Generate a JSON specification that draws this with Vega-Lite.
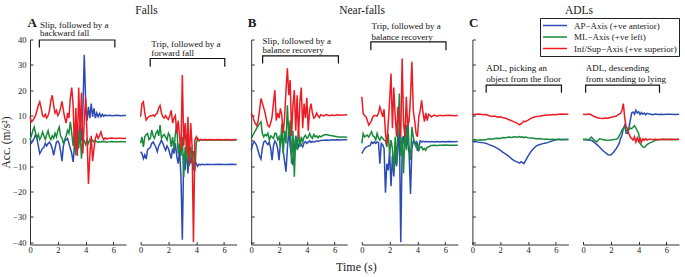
{
"$schema":"https://vega.github.io/schema/vega-lite/v6.json",
"padding":{"left":0,"top":3.5,"right":2,"bottom":1},
"datasets":{
"sig":[
{"p":"A1","t":0,"ap":-1.5,"ml":0.3,"is":9.5},{"p":"A1","t":0.1,"ap":-1,"ml":2,"is":7.5},{"p":"A1","t":0.2,"ap":0,"ml":4,"is":8},{"p":"A1","t":0.3,"ap":1,"ml":5.5,"is":9},{"p":"A1","t":0.4,"ap":2.5,"ml":3,"is":10},{"p":"A1","t":0.5,"ap":1,"ml":1,"is":12},{"p":"A1","t":0.6,"ap":-2,"ml":2.5,"is":14},{"p":"A1","t":0.7,"ap":-5,"ml":0.5,"is":15.4},{"p":"A1","t":0.8,"ap":-4,"ml":1.5,"is":13},{"p":"A1","t":0.9,"ap":-3,"ml":3.5,"is":10},
{"p":"A1","t":1.0,"ap":-2.5,"ml":2,"is":9.5},{"p":"A1","t":1.1,"ap":-1,"ml":0.5,"is":10.5},{"p":"A1","t":1.2,"ap":-2,"ml":2.5,"is":9},{"p":"A1","t":1.3,"ap":-1,"ml":4,"is":10},{"p":"A1","t":1.4,"ap":-0.5,"ml":1.5,"is":12},{"p":"A1","t":1.5,"ap":-1.5,"ml":0.5,"is":16},{"p":"A1","t":1.6,"ap":-3,"ml":2,"is":18},{"p":"A1","t":1.7,"ap":-5.7,"ml":1,"is":14},{"p":"A1","t":1.8,"ap":-3,"ml":3,"is":11},{"p":"A1","t":1.9,"ap":-0.5,"ml":1.5,"is":12},
{"p":"A1","t":2.0,"ap":0,"ml":4,"is":10},{"p":"A1","t":2.1,"ap":-1,"ml":5.5,"is":11},{"p":"A1","t":2.2,"ap":-4,"ml":2,"is":13},{"p":"A1","t":2.3,"ap":-8,"ml":1,"is":15.6},{"p":"A1","t":2.4,"ap":-2,"ml":-1,"is":12},{"p":"A1","t":2.5,"ap":0,"ml":0.5,"is":9},{"p":"A1","t":2.6,"ap":0.5,"ml":2,"is":7},{"p":"A1","t":2.7,"ap":1,"ml":4.2,"is":11},{"p":"A1","t":2.8,"ap":-1,"ml":3,"is":9},{"p":"A1","t":2.9,"ap":-3,"ml":7.5,"is":17},
{"p":"A1","t":3.0,"ap":-5,"ml":3,"is":21},{"p":"A1","t":3.1,"ap":-8.3,"ml":-2,"is":14},{"p":"A1","t":3.2,"ap":-2,"ml":5,"is":-3},{"p":"A1","t":3.3,"ap":4,"ml":-5.7,"is":13},{"p":"A1","t":3.4,"ap":-4,"ml":6.8,"is":-6},{"p":"A1","t":3.5,"ap":2,"ml":-3,"is":21},{"p":"A1","t":3.6,"ap":6,"ml":4,"is":4},{"p":"A1","t":3.7,"ap":0,"ml":-7,"is":19},{"p":"A1","t":3.8,"ap":12,"ml":1,"is":-5},{"p":"A1","t":3.9,"ap":34,"ml":0,"is":8},
{"p":"A1","t":4.0,"ap":16,"ml":-1.5,"is":17},{"p":"A1","t":4.1,"ap":8,"ml":0.5,"is":2},{"p":"A1","t":4.2,"ap":13.4,"ml":-1,"is":-17},{"p":"A1","t":4.3,"ap":9,"ml":0.5,"is":-6},{"p":"A1","t":4.4,"ap":14.7,"ml":-0.5,"is":2},{"p":"A1","t":4.5,"ap":9.5,"ml":0.3,"is":-8},{"p":"A1","t":4.6,"ap":12.8,"ml":-0.5,"is":-3},{"p":"A1","t":4.7,"ap":9,"ml":0,"is":1},{"p":"A1","t":4.8,"ap":11,"ml":-0.3,"is":2.5},{"p":"A1","t":4.9,"ap":9.5,"ml":-0.6,"is":1},
{"p":"A1","t":5.0,"ap":10.8,"ml":-0.3,"is":2},{"p":"A1","t":5.1,"ap":9.5,"ml":-0.5,"is":3.5},{"p":"A1","t":5.2,"ap":10.5,"ml":-0.2,"is":1.5},{"p":"A1","t":5.3,"ap":9.7,"ml":-0.4,"is":0.5},{"p":"A1","t":5.4,"ap":10.2,"ml":-0.3,"is":1.2},{"p":"A1","t":5.5,"ap":9.9,"ml":-0.5,"is":0.8},{"p":"A1","t":5.7,"ap":10.1,"ml":-0.4,"is":1},{"p":"A1","t":5.9,"ap":9.9,"ml":-0.3,"is":1.1},{"p":"A1","t":6.1,"ap":10,"ml":-0.4,"is":0.9},{"p":"A1","t":6.3,"ap":10.1,"ml":-0.4,"is":1},{"p":"A1","t":6.5,"ap":9.9,"ml":-0.3,"is":1},{"p":"A1","t":6.7,"ap":10,"ml":-0.4,"is":0.9},{"p":"A1","t":6.9,"ap":10,"ml":-0.4,"is":1},

{"p":"A2","t":0,"ap":-4.3,"ml":-1,"is":9.5},{"p":"A2","t":0.1,"ap":-5,"ml":1.6,"is":14.7},{"p":"A2","t":0.2,"ap":-7,"ml":-2.4,"is":15.4},{"p":"A2","t":0.3,"ap":-5.5,"ml":1.6,"is":11},{"p":"A2","t":0.4,"ap":-7.2,"ml":2.5,"is":8.2},{"p":"A2","t":0.5,"ap":-3.5,"ml":2.9,"is":9},{"p":"A2","t":0.6,"ap":-3,"ml":0.5,"is":9.5},{"p":"A2","t":0.7,"ap":-2.5,"ml":1,"is":10},{"p":"A2","t":0.8,"ap":-1,"ml":4.2,"is":9.8},{"p":"A2","t":0.9,"ap":-0.4,"ml":2,"is":10.2},
{"p":"A2","t":1.0,"ap":-1.5,"ml":1,"is":9.7},{"p":"A2","t":1.1,"ap":-2.5,"ml":3,"is":10.5},{"p":"A2","t":1.2,"ap":-4.3,"ml":4,"is":11},{"p":"A2","t":1.3,"ap":-2,"ml":2,"is":13},{"p":"A2","t":1.4,"ap":-1,"ml":6.2,"is":14},{"p":"A2","t":1.5,"ap":0.3,"ml":1,"is":11},{"p":"A2","t":1.6,"ap":-1,"ml":2,"is":9.5},{"p":"A2","t":1.7,"ap":-2.4,"ml":2.5,"is":9},{"p":"A2","t":1.8,"ap":-3.7,"ml":1.5,"is":10},{"p":"A2","t":1.9,"ap":-2,"ml":0.3,"is":9},
{"p":"A2","t":2.0,"ap":-3,"ml":3,"is":8.5},{"p":"A2","t":2.1,"ap":-5,"ml":2,"is":10},{"p":"A2","t":2.2,"ap":-7,"ml":-2.4,"is":12},{"p":"A2","t":2.3,"ap":-3,"ml":1.5,"is":7},{"p":"A2","t":2.4,"ap":-5,"ml":-3.7,"is":9},{"p":"A2","t":2.5,"ap":-1,"ml":2.9,"is":10},{"p":"A2","t":2.6,"ap":-6,"ml":6.8,"is":3},{"p":"A2","t":2.7,"ap":-9,"ml":-5,"is":8},{"p":"A2","t":2.8,"ap":-3.5,"ml":-1,"is":1.6},{"p":"A2","t":2.9,"ap":-14,"ml":-6,"is":-3.7},
{"p":"A2","t":3.0,"ap":-39,"ml":1.6,"is":26},{"p":"A2","t":3.1,"ap":-5,"ml":-14.2,"is":-2},{"p":"A2","t":3.2,"ap":-11.6,"ml":-2.4,"is":7},{"p":"A2","t":3.3,"ap":-2.4,"ml":-8,"is":-5},{"p":"A2","t":3.4,"ap":-12.9,"ml":1.6,"is":9.5},{"p":"A2","t":3.5,"ap":-5,"ml":-10,"is":-9},{"p":"A2","t":3.6,"ap":-9,"ml":-2.4,"is":7},{"p":"A2","t":3.7,"ap":-6,"ml":-6,"is":-2},{"p":"A2","t":3.8,"ap":-11.6,"ml":-4,"is":-40},{"p":"A2","t":3.9,"ap":-7.5,"ml":-12.2,"is":0.3},
{"p":"A2","t":4.0,"ap":-9,"ml":-1,"is":1.6},{"p":"A2","t":4.1,"ap":-10,"ml":1,"is":0.5},{"p":"A2","t":4.2,"ap":-9.2,"ml":0,"is":0.3},{"p":"A2","t":4.3,"ap":-9.5,"ml":0.5,"is":0.6},{"p":"A2","t":4.4,"ap":-9.2,"ml":0.3,"is":0.4},{"p":"A2","t":4.6,"ap":-9.4,"ml":0.3,"is":0.5},{"p":"A2","t":4.8,"ap":-9.2,"ml":0.4,"is":0.4},{"p":"A2","t":5.0,"ap":-9.3,"ml":0.3,"is":0.5},{"p":"A2","t":5.3,"ap":-9.3,"ml":0.3,"is":0.4},{"p":"A2","t":5.6,"ap":-9.2,"ml":0.3,"is":0.5},{"p":"A2","t":5.9,"ap":-9.3,"ml":0.3,"is":0.4},{"p":"A2","t":6.2,"ap":-9.3,"ml":0.3,"is":0.5},{"p":"A2","t":6.5,"ap":-9.2,"ml":0.3,"is":0.4},{"p":"A2","t":6.9,"ap":-9.3,"ml":0.3,"is":0.5},

{"p":"B1","t":0,"ap":-3.7,"ml":1,"is":10.8},{"p":"B1","t":0.1,"ap":-1.5,"ml":2,"is":10},{"p":"B1","t":0.2,"ap":-0.4,"ml":3,"is":8},{"p":"B1","t":0.3,"ap":-0.8,"ml":4,"is":6.8},{"p":"B1","t":0.4,"ap":-2,"ml":5,"is":6},{"p":"B1","t":0.5,"ap":-4,"ml":6,"is":8},{"p":"B1","t":0.6,"ap":-6,"ml":6.8,"is":12},{"p":"B1","t":0.7,"ap":-7.2,"ml":7.5,"is":16.7},{"p":"B1","t":0.8,"ap":-3,"ml":3,"is":15},{"p":"B1","t":0.9,"ap":-0.5,"ml":1.6,"is":13},
{"p":"B1","t":1.0,"ap":0,"ml":2.5,"is":11},{"p":"B1","t":1.1,"ap":-0.8,"ml":2,"is":8.2},{"p":"B1","t":1.2,"ap":-1.5,"ml":3,"is":6},{"p":"B1","t":1.3,"ap":-0.5,"ml":0.3,"is":5.5},{"p":"B1","t":1.4,"ap":-3,"ml":2,"is":7},{"p":"B1","t":1.5,"ap":-7.6,"ml":1.5,"is":9.5},{"p":"B1","t":1.6,"ap":-2,"ml":1,"is":15},{"p":"B1","t":1.7,"ap":0,"ml":3,"is":20},{"p":"B1","t":1.8,"ap":-1,"ml":2.9,"is":8},{"p":"B1","t":1.9,"ap":-3,"ml":0.5,"is":11},
{"p":"B1","t":2.0,"ap":-7.6,"ml":1.6,"is":9},{"p":"B1","t":2.1,"ap":-1,"ml":-2.4,"is":12.8},{"p":"B1","t":2.2,"ap":3,"ml":6.8,"is":10},{"p":"B1","t":2.3,"ap":-4,"ml":-5,"is":3},{"p":"B1","t":2.4,"ap":-8,"ml":4,"is":9},{"p":"B1","t":2.5,"ap":-12.2,"ml":-1,"is":20},{"p":"B1","t":2.6,"ap":-3,"ml":14,"is":28.6},{"p":"B1","t":2.7,"ap":4.3,"ml":2,"is":18},{"p":"B1","t":2.8,"ap":-2,"ml":8,"is":24},{"p":"B1","t":2.9,"ap":-6,"ml":-9,"is":2},
{"p":"B1","t":3.0,"ap":-9.6,"ml":4,"is":14},{"p":"B1","t":3.1,"ap":-3,"ml":-14.2,"is":20},{"p":"B1","t":3.2,"ap":2,"ml":1.6,"is":4},{"p":"B1","t":3.3,"ap":-0.4,"ml":-3.7,"is":18},{"p":"B1","t":3.4,"ap":-2.4,"ml":4.2,"is":1},{"p":"B1","t":3.5,"ap":-0.5,"ml":-2.4,"is":15.4},{"p":"B1","t":3.6,"ap":-1.5,"ml":1.6,"is":21},{"p":"B1","t":3.7,"ap":-2.4,"ml":-0.4,"is":5},{"p":"B1","t":3.8,"ap":-0.8,"ml":1.5,"is":14.7},{"p":"B1","t":3.9,"ap":-0.3,"ml":2.2,"is":9},
{"p":"B1","t":4.0,"ap":-1,"ml":1,"is":17},{"p":"B1","t":4.1,"ap":-0.5,"ml":1.5,"is":4},{"p":"B1","t":4.2,"ap":0,"ml":2.9,"is":12},{"p":"B1","t":4.3,"ap":-0.6,"ml":1.6,"is":14.7},{"p":"B1","t":4.4,"ap":-0.2,"ml":1,"is":11},{"p":"B1","t":4.5,"ap":-0.5,"ml":2.5,"is":9},{"p":"B1","t":4.6,"ap":-0.3,"ml":1.6,"is":9.5},{"p":"B1","t":4.7,"ap":0,"ml":2,"is":11},{"p":"B1","t":4.8,"ap":-0.2,"ml":1.2,"is":10},{"p":"B1","t":4.9,"ap":0,"ml":2,"is":9.2},
{"p":"B1","t":5.0,"ap":0.1,"ml":1.6,"is":10.3},{"p":"B1","t":5.2,"ap":0.2,"ml":2.3,"is":9.8},{"p":"B1","t":5.4,"ap":0.3,"ml":2.5,"is":10.4},{"p":"B1","t":5.6,"ap":0.2,"ml":2.2,"is":9.9},{"p":"B1","t":5.8,"ap":0.4,"ml":2,"is":10.2},{"p":"B1","t":6.0,"ap":0.3,"ml":1.8,"is":10},{"p":"B1","t":6.2,"ap":0.4,"ml":1.6,"is":10.3},{"p":"B1","t":6.4,"ap":0.3,"ml":1.5,"is":10.1},{"p":"B1","t":6.6,"ap":0.4,"ml":1.5,"is":10.2},{"p":"B1","t":6.9,"ap":0.4,"ml":1.4,"is":10.3},

{"p":"B2","t":0,"ap":-5,"ml":-1,"is":17.4},{"p":"B2","t":0.1,"ap":-4,"ml":2.9,"is":10.8},{"p":"B2","t":0.2,"ap":-3,"ml":1.6,"is":10},{"p":"B2","t":0.3,"ap":-2.5,"ml":2,"is":9.5},{"p":"B2","t":0.4,"ap":-2.3,"ml":2.3,"is":8},{"p":"B2","t":0.5,"ap":-2,"ml":1.5,"is":6.2},{"p":"B2","t":0.6,"ap":-1.8,"ml":2.5,"is":7},{"p":"B2","t":0.7,"ap":-0.5,"ml":3.6,"is":8},{"p":"B2","t":0.8,"ap":-1,"ml":2,"is":9.5},{"p":"B2","t":0.9,"ap":-0.4,"ml":1.6,"is":10},
{"p":"B2","t":1.0,"ap":-1,"ml":0.3,"is":10},{"p":"B2","t":1.1,"ap":-0.4,"ml":2.9,"is":9.8},{"p":"B2","t":1.2,"ap":-0.7,"ml":1.2,"is":11},{"p":"B2","t":1.3,"ap":-9,"ml":0.3,"is":13.4},{"p":"B2","t":1.4,"ap":-1,"ml":1.6,"is":11.5},{"p":"B2","t":1.5,"ap":-1.5,"ml":1,"is":9.5},{"p":"B2","t":1.6,"ap":-3,"ml":0.3,"is":12.5},{"p":"B2","t":1.7,"ap":-20.5,"ml":0,"is":3},{"p":"B2","t":1.8,"ap":-9,"ml":-2.4,"is":-1.7},{"p":"B2","t":1.9,"ap":-11.6,"ml":2.9,"is":7},
{"p":"B2","t":2.0,"ap":-4,"ml":-5,"is":16},{"p":"B2","t":2.1,"ap":-17.9,"ml":0.3,"is":26.6},{"p":"B2","t":2.2,"ap":-6,"ml":-3,"is":5},{"p":"B2","t":2.3,"ap":-14,"ml":-11.6,"is":21},{"p":"B2","t":2.4,"ap":-5,"ml":1.6,"is":9.5},{"p":"B2","t":2.5,"ap":-10,"ml":-9,"is":1.6},{"p":"B2","t":2.6,"ap":-3,"ml":5,"is":13.4},{"p":"B2","t":2.7,"ap":5.5,"ml":18.7,"is":8},{"p":"B2","t":2.8,"ap":-40,"ml":-6,"is":1.6},{"p":"B2","t":2.9,"ap":-3,"ml":1.6,"is":32.5},
{"p":"B2","t":3.0,"ap":2,"ml":-12.9,"is":7},{"p":"B2","t":3.1,"ap":-2.4,"ml":4.2,"is":1.6},{"p":"B2","t":3.2,"ap":6.2,"ml":-3.7,"is":17.4},{"p":"B2","t":3.3,"ap":-1,"ml":9.5,"is":5.5},{"p":"B2","t":3.4,"ap":-5,"ml":-2.4,"is":8},{"p":"B2","t":3.5,"ap":-21,"ml":-7.6,"is":17.4},{"p":"B2","t":3.6,"ap":-3,"ml":5.5,"is":31.2},{"p":"B2","t":3.7,"ap":0,"ml":1.6,"is":12},{"p":"B2","t":3.8,"ap":-1,"ml":-1,"is":8},{"p":"B2","t":3.9,"ap":-0.4,"ml":-2.4,"is":2.9},
{"p":"B2","t":4.0,"ap":-4,"ml":-1,"is":1.6},{"p":"B2","t":4.1,"ap":-2.4,"ml":-3.7,"is":9.5},{"p":"B2","t":4.2,"ap":0,"ml":-2.5,"is":12},{"p":"B2","t":4.3,"ap":-0.4,"ml":-2.4,"is":16},{"p":"B2","t":4.4,"ap":-0.2,"ml":-3.5,"is":11},{"p":"B2","t":4.5,"ap":-0.4,"ml":-3,"is":7.6},{"p":"B2","t":4.6,"ap":-0.2,"ml":-3.7,"is":11},{"p":"B2","t":4.7,"ap":-0.4,"ml":-2.5,"is":8},{"p":"B2","t":4.8,"ap":-0.3,"ml":-2.4,"is":10.5},{"p":"B2","t":4.9,"ap":-0.4,"ml":-2,"is":10},
{"p":"B2","t":5.0,"ap":-0.3,"ml":-1.8,"is":9.5},{"p":"B2","t":5.2,"ap":-0.4,"ml":-1.7,"is":10.2},{"p":"B2","t":5.4,"ap":-0.3,"ml":-1.8,"is":9.7},{"p":"B2","t":5.6,"ap":-0.4,"ml":-1.7,"is":10.1},{"p":"B2","t":5.8,"ap":-0.3,"ml":-1.7,"is":9.9},{"p":"B2","t":6.0,"ap":-0.4,"ml":-1.6,"is":10},{"p":"B2","t":6.3,"ap":-0.3,"ml":-1.7,"is":10.1},{"p":"B2","t":6.6,"ap":-0.4,"ml":-1.7,"is":9.9},{"p":"B2","t":6.9,"ap":-0.3,"ml":-1.7,"is":10},

{"p":"C1","t":0,"ap":-0.4,"ml":0.3,"is":10.5},{"p":"C1","t":0.2,"ap":-0.3,"ml":0.5,"is":10.4},{"p":"C1","t":0.4,"ap":-0.5,"ml":0.2,"is":10.6},{"p":"C1","t":0.6,"ap":-0.6,"ml":0.4,"is":10.5},{"p":"C1","t":0.8,"ap":-0.8,"ml":0.3,"is":10.3},{"p":"C1","t":1.0,"ap":-1,"ml":0.5,"is":10.4},{"p":"C1","t":1.2,"ap":-1.5,"ml":0.8,"is":9.9},{"p":"C1","t":1.4,"ap":-1.9,"ml":0.6,"is":9.6},{"p":"C1","t":1.6,"ap":-2.4,"ml":0.9,"is":9.8},{"p":"C1","t":1.8,"ap":-3,"ml":1,"is":9.4},
{"p":"C1","t":2.0,"ap":-3.7,"ml":0.9,"is":9.5},{"p":"C1","t":2.2,"ap":-4.5,"ml":1.3,"is":9.1},{"p":"C1","t":2.4,"ap":-5.2,"ml":1.2,"is":8.9},{"p":"C1","t":2.6,"ap":-6,"ml":1.5,"is":8.4},{"p":"C1","t":2.8,"ap":-7,"ml":1.3,"is":8},{"p":"C1","t":3.0,"ap":-7.8,"ml":1.6,"is":7.5},{"p":"C1","t":3.2,"ap":-8.3,"ml":1.4,"is":7},{"p":"C1","t":3.4,"ap":-8.8,"ml":1.7,"is":6.3},{"p":"C1","t":3.5,"ap":-8.2,"ml":1.4,"is":6.8},{"p":"C1","t":3.6,"ap":-8.6,"ml":1.6,"is":7.2},
{"p":"C1","t":3.7,"ap":-9,"ml":1.3,"is":7.8},{"p":"C1","t":3.8,"ap":-8,"ml":1.5,"is":7.6},{"p":"C1","t":4.0,"ap":-6,"ml":1.2,"is":8.2},{"p":"C1","t":4.2,"ap":-4.3,"ml":1.1,"is":8.9},{"p":"C1","t":4.4,"ap":-3,"ml":1,"is":9.3},{"p":"C1","t":4.6,"ap":-2,"ml":0.8,"is":9.6},{"p":"C1","t":4.8,"ap":-1.5,"ml":0.9,"is":9.7},{"p":"C1","t":5.0,"ap":-1.2,"ml":0.7,"is":9.9},{"p":"C1","t":5.2,"ap":-0.9,"ml":0.6,"is":10.1},{"p":"C1","t":5.4,"ap":-0.7,"ml":0.6,"is":10.2},
{"p":"C1","t":5.6,"ap":-0.3,"ml":0.5,"is":10.2},{"p":"C1","t":5.8,"ap":0.1,"ml":0.6,"is":10.4},{"p":"C1","t":6.0,"ap":0.4,"ml":0.5,"is":10.3},{"p":"C1","t":6.2,"ap":0.6,"ml":0.5,"is":10.5},{"p":"C1","t":6.4,"ap":0.5,"ml":0.4,"is":10.6},{"p":"C1","t":6.6,"ap":0.5,"ml":0.5,"is":10.5},{"p":"C1","t":6.9,"ap":0.5,"ml":0.5,"is":10.6},

{"p":"C2","t":0,"ap":0.5,"ml":0.5,"is":10.5},{"p":"C2","t":0.2,"ap":0.4,"ml":0.6,"is":10.4},{"p":"C2","t":0.4,"ap":0.3,"ml":0.4,"is":10.6},{"p":"C2","t":0.6,"ap":0.2,"ml":1.5,"is":10.3},{"p":"C2","t":0.8,"ap":-0.5,"ml":0.3,"is":9.6},{"p":"C2","t":1.0,"ap":-1.5,"ml":-0.4,"is":9.2},{"p":"C2","t":1.2,"ap":-2.5,"ml":0.9,"is":8.9},{"p":"C2","t":1.4,"ap":-3.7,"ml":0.5,"is":8.8},{"p":"C2","t":1.6,"ap":-4.6,"ml":0.3,"is":9},{"p":"C2","t":1.8,"ap":-5.5,"ml":0.2,"is":8.9},
{"p":"C2","t":2.0,"ap":-5.6,"ml":0.3,"is":9.3},{"p":"C2","t":2.2,"ap":-4.5,"ml":0.5,"is":9.5},{"p":"C2","t":2.4,"ap":-3,"ml":0.6,"is":9.8},{"p":"C2","t":2.5,"ap":-2,"ml":1,"is":10.2},{"p":"C2","t":2.6,"ap":-1,"ml":2,"is":10.6},{"p":"C2","t":2.7,"ap":1,"ml":3,"is":10.8},{"p":"C2","t":2.8,"ap":2.2,"ml":4.2,"is":12},{"p":"C2","t":2.9,"ap":4.9,"ml":5,"is":14.7},{"p":"C2","t":3.0,"ap":6.2,"ml":5.5,"is":9},{"p":"C2","t":3.1,"ap":3,"ml":4.5,"is":5.5},
{"p":"C2","t":3.2,"ap":2.9,"ml":3.6,"is":4.9},{"p":"C2","t":3.3,"ap":5,"ml":4.5,"is":2.9},{"p":"C2","t":3.4,"ap":8.2,"ml":5,"is":1.5},{"p":"C2","t":3.5,"ap":11,"ml":4.8,"is":0.9},{"p":"C2","t":3.6,"ap":11.4,"ml":5.5,"is":0.3},{"p":"C2","t":3.7,"ap":10.5,"ml":6,"is":1.6},{"p":"C2","t":3.8,"ap":12.1,"ml":5,"is":-0.5},{"p":"C2","t":3.9,"ap":11,"ml":4,"is":1.2},{"p":"C2","t":4.0,"ap":11.5,"ml":2.9,"is":-0.3},{"p":"C2","t":4.1,"ap":10.4,"ml":-1,"is":1},
{"p":"C2","t":4.2,"ap":11.2,"ml":-1.7,"is":-0.5},{"p":"C2","t":4.3,"ap":10.5,"ml":-2.4,"is":0.8},{"p":"C2","t":4.4,"ap":11,"ml":-2.6,"is":0.2},{"p":"C2","t":4.5,"ap":10.3,"ml":-2,"is":0.9},{"p":"C2","t":4.6,"ap":10.9,"ml":-1.5,"is":0.3},{"p":"C2","t":4.8,"ap":10.6,"ml":-0.8,"is":0.7},{"p":"C2","t":5.0,"ap":10.3,"ml":-0.4,"is":0.4},{"p":"C2","t":5.2,"ap":10.6,"ml":0.2,"is":0.6},{"p":"C2","t":5.4,"ap":10.4,"ml":0.4,"is":0.5},{"p":"C2","t":5.6,"ap":10.5,"ml":0.5,"is":0.5},
{"p":"C2","t":5.8,"ap":10.4,"ml":0.5,"is":0.6},{"p":"C2","t":6.0,"ap":10.5,"ml":0.5,"is":0.5},{"p":"C2","t":6.3,"ap":10.5,"ml":0.6,"is":0.5},{"p":"C2","t":6.6,"ap":10.4,"ml":0.5,"is":0.5},{"p":"C2","t":6.9,"ap":10.5,"ml":0.5,"is":0.6}
],
"brk":[
{"p":"A1","i":0,"t":0.67,"acc":36.8},{"p":"A1","i":1,"t":0.67,"acc":39.8},{"p":"A1","i":2,"t":6.1,"acc":39.8},{"p":"A1","i":3,"t":6.1,"acc":36.8},
{"p":"A2","i":0,"t":0.69,"acc":29.2},{"p":"A2","i":1,"t":0.69,"acc":32.5},{"p":"A2","i":2,"t":6.05,"acc":32.5},{"p":"A2","i":3,"t":6.05,"acc":29.2},
{"p":"B1","i":0,"t":0.82,"acc":30.5},{"p":"B1","i":1,"t":0.82,"acc":33.5},{"p":"B1","i":2,"t":6.27,"acc":33.5},{"p":"B1","i":3,"t":6.27,"acc":30.5},
{"p":"B2","i":0,"t":0.65,"acc":35.8},{"p":"B2","i":1,"t":0.65,"acc":39.1},{"p":"B2","i":2,"t":6.05,"acc":39.1},{"p":"B2","i":3,"t":6.05,"acc":35.8},
{"p":"C1","i":0,"t":0.99,"acc":19},{"p":"C1","i":1,"t":0.99,"acc":22},{"p":"C1","i":2,"t":6.4,"acc":22},{"p":"C1","i":3,"t":6.4,"acc":19},
{"p":"C2","i":0,"t":0.19,"acc":19},{"p":"C2","i":1,"t":0.19,"acc":22},{"p":"C2","i":2,"t":5.5,"acc":22},{"p":"C2","i":3,"t":5.5,"acc":19}
],
"notes":[
{"p":"A1","t":0.72,"acc":45.8,"txt":"Slip, followed by a"},{"p":"A1","t":0.72,"acc":42.4,"txt":"backward fall"},
{"p":"A2","t":0.77,"acc":38.3,"txt":"Trip, followed by a"},{"p":"A2","t":0.77,"acc":34.7,"txt":"forward fall"},
{"p":"B1","t":0.81,"acc":39.6,"txt":"Slip, followed by a"},{"p":"B1","t":0.81,"acc":35.7,"txt":"balance recovery"},
{"p":"B2","t":0.7,"acc":45.3,"txt":"Trip, followed by a"},{"p":"B2","t":0.7,"acc":41.1,"txt":"balance recovery"},
{"p":"C1","t":0.99,"acc":28.8,"txt":"ADL, picking an"},{"p":"C1","t":0.99,"acc":24.5,"txt":"object from the floor"},
{"p":"C2","t":0.19,"acc":28.8,"txt":"ADL, descending"},{"p":"C2","t":0.19,"acc":24.5,"txt":"from standing to lying"}
]
},
"config":{
"view":{"stroke":null},
"font":"Liberation Serif",
"axis":{"grid":false,"domainColor":"#333","tickColor":"#333","labelColor":"#1a1a1a","labelFont":"Liberation Serif","labelFontSize":8.5,"titleFont":"Liberation Serif","titleFontSize":11.5,"titleFontWeight":"normal","titleColor":"#1a1a1a","tickSize":-3,"labelFlush":false,"labelOverlap":false},
"axisX":{"labelPadding":4},
"axisY":{"labelPadding":7},
"title":{"font":"Liberation Serif","fontWeight":"normal","color":"#1a1a1a"},
"line":{"strokeWidth":1.5}
},
"title":{"text":"Time (s)","orient":"bottom","anchor":"middle","fontSize":12,"offset":8,"baseline":"top","dx":15},
"resolve":{"scale":{"color":"shared"},"legend":{"color":"shared"}},
"spacing":14.6,
"bounds":"flush",
"hconcat":[
 {"width":96,"height":205,
  "encoding":{
   "x":{"field":"t","type":"quantitative","scale":{"domain":[0,6.9],"nice":false,"zero":false},"axis":{"values":[0,2,4,6],"title":"A","titleX":-3,"titleY":-218,"titleAlign":"left","titleBaseline":"alphabetic","titleFontWeight":"bold","titleFontSize":13}},
   "y":{"field":"acc","type":"quantitative","scale":{"domain":[-40.9,40],"nice":false},"axis":{"values":[-40,-30,-20,-10,0,10,20,30,40],"title":"Acc. (m/s²)","titlePadding":1}}},
  "layer":[
  {"data":{"name":"sig"},"transform":[{"filter":"datum.p=='A1'"},{"fold":["ap","ml","is"],"as":["k","acc"]}],
   "mark":{"type":"line"},
   "encoding":{"color":{"field":"k","type":"nominal","scale":{"domain":["ap","ml","is"],"range":["#2c4bb3","#188a3b","#ec1c24"]},
      "legend":{"title":null,"orient":"none","legendX":510,"legendY":-21.5,"labelExpr":"datum.value=='ap'?'AP−Axis (+ve anterior)':datum.value=='ml'?'ML−Axis (+ve left)':'Inf/Sup−Axis (+ve superior)'","symbolType":"M-1,0L4.33,0","symbolSize":81,"symbolStrokeWidth":2,"labelFont":"Liberation Serif","labelFontSize":9,"labelOffset":21,"padding":2,"rowPadding":0.5,"strokeColor":"#222","fillColor":"white","labelLimit":300,"labelColor":"#1a1a1a"}}}},
  {"data":{"name":"brk"},"transform":[{"filter":"datum.p=='A1'"}],"mark":{"type":"line","color":"#111","strokeWidth":1.2},
   "encoding":{"order":{"field":"i","type":"quantitative"}}},
  {"data":{"name":"notes"},"transform":[{"filter":"datum.p=='A1'"}],"mark":{"type":"text","align":"left","baseline":"middle","font":"Liberation Serif","fontSize":9,"color":"#111"},
   "encoding":{"text":{"field":"txt"}}}
  ]},
 {"width":96,"height":205,
  "encoding":{
   "x":{"field":"t","type":"quantitative","scale":{"domain":[0,6.9],"nice":false,"zero":false},"axis":{"values":[0,2,4,6],"title":"Falls","titleX":5.4,"titleY":-231.5,"titleAlign":"center","titleBaseline":"alphabetic","titleFontSize":11.5}},
   "y":{"field":"acc","type":"quantitative","scale":{"domain":[-40.9,40],"nice":false},"axis":null}},
  "layer":[
  {"data":{"name":"sig"},"transform":[{"filter":"datum.p=='A2'"},{"fold":["ap","ml","is"],"as":["k","acc"]}],
   "mark":{"type":"line"},
   "encoding":{"color":{"field":"k","type":"nominal","scale":{"domain":["ap","ml","is"],"range":["#2c4bb3","#188a3b","#ec1c24"]},
      "legend":{"title":null,"orient":"none","legendX":510,"legendY":-21.5,"labelExpr":"datum.value=='ap'?'AP−Axis (+ve anterior)':datum.value=='ml'?'ML−Axis (+ve left)':'Inf/Sup−Axis (+ve superior)'","symbolType":"M-1,0L4.33,0","symbolSize":81,"symbolStrokeWidth":2,"labelFont":"Liberation Serif","labelFontSize":9,"labelOffset":21,"padding":2,"rowPadding":0.5,"strokeColor":"#222","fillColor":"white","labelLimit":300,"labelColor":"#1a1a1a"}}}},
  {"data":{"name":"brk"},"transform":[{"filter":"datum.p=='A2'"}],"mark":{"type":"line","color":"#111","strokeWidth":1.2},
   "encoding":{"order":{"field":"i","type":"quantitative"}}},
  {"data":{"name":"notes"},"transform":[{"filter":"datum.p=='A2'"}],"mark":{"type":"text","align":"left","baseline":"middle","font":"Liberation Serif","fontSize":9,"color":"#111"},
   "encoding":{"text":{"field":"txt"}}}
  ]},
 {"width":96,"height":205,
  "encoding":{
   "x":{"field":"t","type":"quantitative","scale":{"domain":[0,6.9],"nice":false,"zero":false},"axis":{"values":[0,2,4,6],"title":"B","titleX":-4,"titleY":-218,"titleAlign":"left","titleBaseline":"alphabetic","titleFontWeight":"bold","titleFontSize":13}},
   "y":{"field":"acc","type":"quantitative","scale":{"domain":[-40.9,40],"nice":false},"axis":{"values":[-40,-30,-20,-10,0,10,20,30,40],"labels":false,"title":null}}},
  "layer":[
  {"data":{"name":"sig"},"transform":[{"filter":"datum.p=='B1'"},{"fold":["ap","ml","is"],"as":["k","acc"]}],
   "mark":{"type":"line"},
   "encoding":{"color":{"field":"k","type":"nominal","scale":{"domain":["ap","ml","is"],"range":["#2c4bb3","#188a3b","#ec1c24"]},
      "legend":{"title":null,"orient":"none","legendX":510,"legendY":-21.5,"labelExpr":"datum.value=='ap'?'AP−Axis (+ve anterior)':datum.value=='ml'?'ML−Axis (+ve left)':'Inf/Sup−Axis (+ve superior)'","symbolType":"M-1,0L4.33,0","symbolSize":81,"symbolStrokeWidth":2,"labelFont":"Liberation Serif","labelFontSize":9,"labelOffset":21,"padding":2,"rowPadding":0.5,"strokeColor":"#222","fillColor":"white","labelLimit":300,"labelColor":"#1a1a1a"}}}},
  {"data":{"name":"brk"},"transform":[{"filter":"datum.p=='B1'"}],"mark":{"type":"line","color":"#111","strokeWidth":1.2},
   "encoding":{"order":{"field":"i","type":"quantitative"}}},
  {"data":{"name":"notes"},"transform":[{"filter":"datum.p=='B1'"}],"mark":{"type":"text","align":"left","baseline":"middle","font":"Liberation Serif","fontSize":9,"color":"#111"},
   "encoding":{"text":{"field":"txt"}}}
  ]},
 {"width":96,"height":205,
  "encoding":{
   "x":{"field":"t","type":"quantitative","scale":{"domain":[0,6.9],"nice":false,"zero":false},"axis":{"values":[0,2,4,6],"title":"Near-falls","titleX":-0.3,"titleY":-231.5,"titleAlign":"center","titleBaseline":"alphabetic","titleFontSize":11.5}},
   "y":{"field":"acc","type":"quantitative","scale":{"domain":[-40.9,40],"nice":false},"axis":null}},
  "layer":[
  {"data":{"name":"sig"},"transform":[{"filter":"datum.p=='B2'"},{"fold":["ap","ml","is"],"as":["k","acc"]}],
   "mark":{"type":"line"},
   "encoding":{"color":{"field":"k","type":"nominal","scale":{"domain":["ap","ml","is"],"range":["#2c4bb3","#188a3b","#ec1c24"]},
      "legend":{"title":null,"orient":"none","legendX":510,"legendY":-21.5,"labelExpr":"datum.value=='ap'?'AP−Axis (+ve anterior)':datum.value=='ml'?'ML−Axis (+ve left)':'Inf/Sup−Axis (+ve superior)'","symbolType":"M-1,0L4.33,0","symbolSize":81,"symbolStrokeWidth":2,"labelFont":"Liberation Serif","labelFontSize":9,"labelOffset":21,"padding":2,"rowPadding":0.5,"strokeColor":"#222","fillColor":"white","labelLimit":300,"labelColor":"#1a1a1a"}}}},
  {"data":{"name":"brk"},"transform":[{"filter":"datum.p=='B2'"}],"mark":{"type":"line","color":"#111","strokeWidth":1.2},
   "encoding":{"order":{"field":"i","type":"quantitative"}}},
  {"data":{"name":"notes"},"transform":[{"filter":"datum.p=='B2'"}],"mark":{"type":"text","align":"left","baseline":"middle","font":"Liberation Serif","fontSize":9,"color":"#111"},
   "encoding":{"text":{"field":"txt"}}}
  ]},
 {"width":96,"height":205,
  "encoding":{
   "x":{"field":"t","type":"quantitative","scale":{"domain":[0,6.9],"nice":false,"zero":false},"axis":{"values":[0,2,4,6],"title":"C","titleX":-4,"titleY":-218,"titleAlign":"left","titleBaseline":"alphabetic","titleFontWeight":"bold","titleFontSize":13}},
   "y":{"field":"acc","type":"quantitative","scale":{"domain":[-40.9,40],"nice":false},"axis":{"values":[-40,-30,-20,-10,0,10,20,30,40],"labels":false,"title":null}}},
  "layer":[
  {"data":{"name":"sig"},"transform":[{"filter":"datum.p=='C1'"},{"fold":["ap","ml","is"],"as":["k","acc"]}],
   "mark":{"type":"line"},
   "encoding":{"color":{"field":"k","type":"nominal","scale":{"domain":["ap","ml","is"],"range":["#2c4bb3","#188a3b","#ec1c24"]},
      "legend":{"title":null,"orient":"none","legendX":510,"legendY":-21.5,"labelExpr":"datum.value=='ap'?'AP−Axis (+ve anterior)':datum.value=='ml'?'ML−Axis (+ve left)':'Inf/Sup−Axis (+ve superior)'","symbolType":"M-1,0L4.33,0","symbolSize":81,"symbolStrokeWidth":2,"labelFont":"Liberation Serif","labelFontSize":9,"labelOffset":21,"padding":2,"rowPadding":0.5,"strokeColor":"#222","fillColor":"white","labelLimit":300,"labelColor":"#1a1a1a"}}}},
  {"data":{"name":"brk"},"transform":[{"filter":"datum.p=='C1'"}],"mark":{"type":"line","color":"#111","strokeWidth":1.2},
   "encoding":{"order":{"field":"i","type":"quantitative"}}},
  {"data":{"name":"notes"},"transform":[{"filter":"datum.p=='C1'"}],"mark":{"type":"text","align":"left","baseline":"middle","font":"Liberation Serif","fontSize":9,"color":"#111"},
   "encoding":{"text":{"field":"txt"}}}
  ]},
 {"width":96,"height":205,
  "encoding":{
   "x":{"field":"t","type":"quantitative","scale":{"domain":[0,6.9],"nice":false,"zero":false},"axis":{"values":[0,2,4,6],"title":"ADLs","titleX":-4.5,"titleY":-231.5,"titleAlign":"center","titleBaseline":"alphabetic","titleFontSize":11.5}},
   "y":{"field":"acc","type":"quantitative","scale":{"domain":[-40.9,40],"nice":false},"axis":null}},
  "layer":[
  {"data":{"name":"sig"},"transform":[{"filter":"datum.p=='C2'"},{"fold":["ap","ml","is"],"as":["k","acc"]}],
   "mark":{"type":"line"},
   "encoding":{"color":{"field":"k","type":"nominal","scale":{"domain":["ap","ml","is"],"range":["#2c4bb3","#188a3b","#ec1c24"]},
      "legend":{"title":null,"orient":"none","legendX":510,"legendY":-21.5,"labelExpr":"datum.value=='ap'?'AP−Axis (+ve anterior)':datum.value=='ml'?'ML−Axis (+ve left)':'Inf/Sup−Axis (+ve superior)'","symbolType":"M-1,0L4.33,0","symbolSize":81,"symbolStrokeWidth":2,"labelFont":"Liberation Serif","labelFontSize":9,"labelOffset":21,"padding":2,"rowPadding":0.5,"strokeColor":"#222","fillColor":"white","labelLimit":300,"labelColor":"#1a1a1a"}}}},
  {"data":{"name":"brk"},"transform":[{"filter":"datum.p=='C2'"}],"mark":{"type":"line","color":"#111","strokeWidth":1.2},
   "encoding":{"order":{"field":"i","type":"quantitative"}}},
  {"data":{"name":"notes"},"transform":[{"filter":"datum.p=='C2'"}],"mark":{"type":"text","align":"left","baseline":"middle","font":"Liberation Serif","fontSize":9,"color":"#111"},
   "encoding":{"text":{"field":"txt"}}}
  ]}
]
}
